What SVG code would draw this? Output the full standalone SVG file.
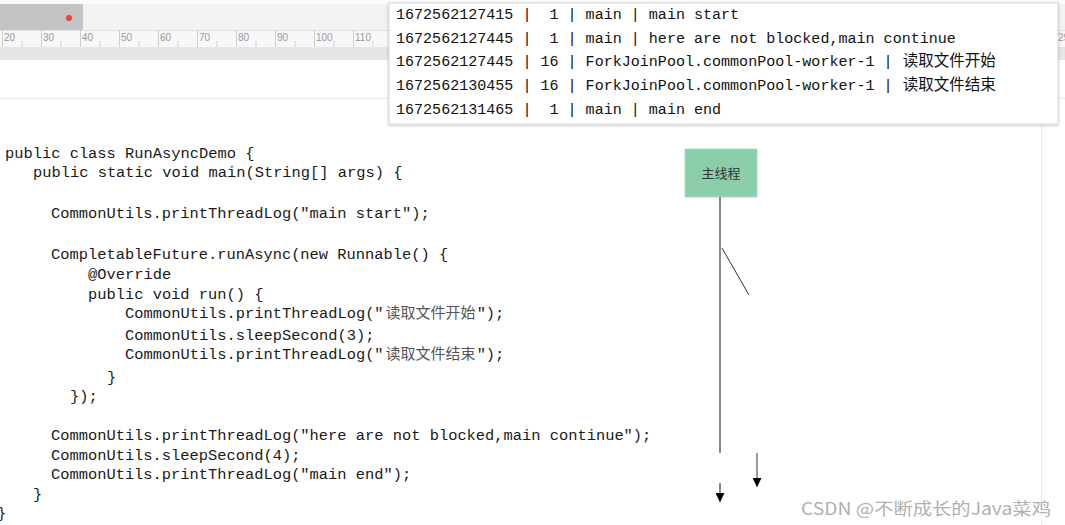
<svg xmlns="http://www.w3.org/2000/svg" width="1065" height="525" viewBox="0 0 1065 525">
<style>
.code{font-family:"Liberation Mono","DejaVu Sans Mono",monospace;font-size:15.4px;fill:#1a1a1a;white-space:pre}
.cjk{font-family:"Noto Sans CJK SC",sans-serif;fill:#555;font-size:15px}
.log{font-family:"Liberation Mono","DejaVu Sans Mono",monospace;font-size:15.05px;fill:#111;white-space:pre}
.logcjk{font-family:"Noto Sans CJK SC",sans-serif;font-size:15.5px;fill:#111}
.rnum{font-family:"Liberation Sans",Arial,sans-serif;font-size:10px;fill:#999}
.tick{stroke:#cfcfcf;stroke-width:1}
</style>
<defs>
<marker id="ah" viewBox="0 0 10 10" refX="10" refY="5" markerWidth="9" markerHeight="9" markerUnits="userSpaceOnUse" orient="auto">
<path d="M0,0 L10,5 L0,10 Z" fill="#000"/>
</marker>
<filter id="sh" x="-5%" y="-10%" width="110%" height="130%">
<feDropShadow dx="0" dy="1" stdDeviation="1.5" flood-color="#000" flood-opacity="0.25"/>
</filter>
</defs>
<rect width="1065" height="525" fill="#fff"/>
<g id="toolbar">
<rect x="0" y="0" width="1065" height="4" fill="#fafafa"/>
<rect x="0" y="4" width="1065" height="26" fill="#f2f2f2"/>
<rect x="0" y="4" width="83" height="26" fill="#c4c4c4"/>
<circle cx="69" cy="18" r="3" fill="#f04040"/>
<rect x="0" y="30" width="1065" height="17" fill="#f8f8f8"/>
<line x1="0" y1="30.5" x2="1065" y2="30.5" stroke="#e0e0e0"/>
<rect x="0" y="47" width="1065" height="13" fill="#e6e6e6"/>
<line x1="0" y1="98.5" x2="1065" y2="98.5" stroke="#ebebeb"/>
</g>
<g id="ruler">
<g class="tick">
<line x1="2.5" y1="30" x2="2.5" y2="47"/><line x1="22" y1="41" x2="22" y2="47"/>
<line x1="41.5" y1="30" x2="41.5" y2="47"/><line x1="61" y1="41" x2="61" y2="47"/>
<line x1="80.5" y1="30" x2="80.5" y2="47"/><line x1="100" y1="41" x2="100" y2="47"/>
<line x1="119.5" y1="30" x2="119.5" y2="47"/><line x1="139" y1="41" x2="139" y2="47"/>
<line x1="158.5" y1="30" x2="158.5" y2="47"/><line x1="178" y1="41" x2="178" y2="47"/>
<line x1="197.5" y1="30" x2="197.5" y2="47"/><line x1="217" y1="41" x2="217" y2="47"/>
<line x1="236.5" y1="30" x2="236.5" y2="47"/><line x1="256" y1="41" x2="256" y2="47"/>
<line x1="275.5" y1="30" x2="275.5" y2="47"/><line x1="295" y1="41" x2="295" y2="47"/>
<line x1="314.5" y1="30" x2="314.5" y2="47"/><line x1="334" y1="41" x2="334" y2="47"/>
<line x1="353.5" y1="30" x2="353.5" y2="47"/><line x1="373" y1="41" x2="373" y2="47"/>
<line x1="1055.5" y1="30" x2="1055.5" y2="47"/>
</g>
<text class="rnum" x="4" y="41">20</text>
<text class="rnum" x="43" y="41">30</text>
<text class="rnum" x="82" y="41">40</text>
<text class="rnum" x="121" y="41">50</text>
<text class="rnum" x="160" y="41">60</text>
<text class="rnum" x="199" y="41">70</text>
<text class="rnum" x="238" y="41">80</text>
<text class="rnum" x="277" y="41">90</text>
<text class="rnum" x="316" y="41">100</text>
<text class="rnum" x="355" y="41">110</text>
<text class="rnum" x="1058" y="41">290</text>
</g>
<line x1="1041.5" y1="60" x2="1041.5" y2="525" stroke="#ececec"/>
<g id="code">
<text class="code" x="5" y="158">public class RunAsyncDemo {</text>
<text class="code" x="33" y="177">public static void main(String[] args) {</text>
<text class="code" x="51" y="218">CommonUtils.printThreadLog("main start");</text>
<text class="code" x="51" y="259">CompletableFuture.runAsync(new Runnable() {</text>
<text class="code" x="88" y="279">@Override</text>
<text class="code" x="88" y="299">public void run() {</text>
<text class="code" x="125" y="318">CommonUtils.printThreadLog("<tspan class="cjk" dx="2">读取文件开始</tspan><tspan dx="1">");</tspan></text>
<text class="code" x="125" y="340">CommonUtils.sleepSecond(3);</text>
<text class="code" x="125" y="359">CommonUtils.printThreadLog("<tspan class="cjk" dx="2">读取文件结束</tspan><tspan dx="1">");</tspan></text>
<text class="code" x="107" y="382">}</text>
<text class="code" x="70" y="401">});</text>
<text class="code" x="51" y="440">CommonUtils.printThreadLog("here are not blocked,main continue");</text>
<text class="code" x="51" y="460">CommonUtils.sleepSecond(4);</text>
<text class="code" x="51" y="479">CommonUtils.printThreadLog("main end");</text>
<text class="code" x="33" y="499">}</text>
<text class="code" x="-3" y="518">}</text>
</g>
<g id="log">
<rect x="389" y="3" width="669" height="121" fill="#fff" stroke="#d8d8d8" filter="url(#sh)"/>
<text class="log" x="396" y="19">1672562127415 |  1 | main | main start</text>
<text class="log" x="396" y="43">1672562127445 |  1 | main | here are not blocked,main continue</text>
<text class="log" x="396" y="66">1672562127445 | 16 | ForkJoinPool.commonPool-worker-1 | <tspan class="logcjk" dx="1">读取文件开始</tspan></text>
<text class="log" x="396" y="90">1672562130455 | 16 | ForkJoinPool.commonPool-worker-1 | <tspan class="logcjk" dx="1">读取文件结束</tspan></text>
<text class="log" x="396" y="114">1672562131465 |  1 | main | main end</text>
</g>
<g id="main-thread">
<rect x="685" y="149" width="72" height="48" fill="#8ccea9" stroke="#a8dcc0" stroke-width="1"/>
<text x="721" y="178" text-anchor="middle" font-family="Noto Sans CJK SC,sans-serif" font-size="13" fill="#333">主线程</text>
</g>
<g id="connectors">
<line x1="720" y1="197" x2="720" y2="453" stroke="#8a8a8a" stroke-width="2"/>
<line x1="722" y1="248" x2="749" y2="295" stroke="#333" stroke-width="1"/>
<line x1="720" y1="483" x2="720" y2="502" stroke="#8a8a8a" stroke-width="2" marker-end="url(#ah)"/>
<line x1="757" y1="453" x2="757" y2="487" stroke="#777" stroke-width="1.5" marker-end="url(#ah)"/>
</g>
<text x="801" y="515" font-family="Noto Sans CJK SC,sans-serif" font-size="17" fill="#b0b0b0" textLength="250" lengthAdjust="spacingAndGlyphs">CSDN @不断成长的Java菜鸡</text>
</svg>
